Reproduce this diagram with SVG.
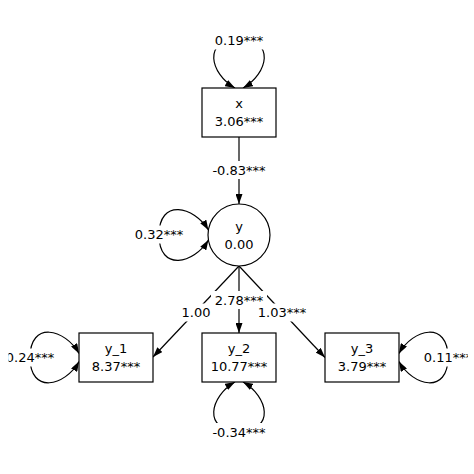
<svg xmlns="http://www.w3.org/2000/svg" width="474" height="474" viewBox="0 0 474 474">
<style>
  text { font-family: "DejaVu Sans", sans-serif; font-size: 13px; fill: #000; text-anchor: middle; }
  .edge { fill: none; stroke: #000; stroke-width: 1.2; }
  .arr { marker-end: url(#ah); }
  .loop { marker-start: url(#ah); marker-end: url(#ah); }
  .lbl { fill: #fff; stroke: none; }
  .node { fill: #fff; stroke: #000; stroke-width: 1.2; }
</style>
<defs>
  <marker id="ah" markerWidth="10" markerHeight="7" refX="10" refY="3.5" orient="auto-start-reverse" markerUnits="userSpaceOnUse">
    <path d="M0,0 L10,3.5 L0,7 z" fill="#000"/>
  </marker>
  <clipPath id="clip"><rect x="8.5" y="0" width="459.5" height="474"/></clipPath>
</defs>
<rect x="0" y="0" width="474" height="474" fill="#fff"/>
<g clip-path="url(#clip)">
  <g id="connectors">
    <path class="edge arr" d="M239,137 L239,204"/>
    <path class="edge arr" d="M239,266 L239,333"/>
    <path class="edge arr" d="M239,266 L153,357"/>
    <path class="edge arr" d="M239,266 L325,357.5"/>
    <path class="edge loop" d="M235,88 C210,74 202,39 239,39 C276,39 268,74 243,88"/>
    <path class="edge loop" d="M208.4,230 C194,206 159,198 159,235 C159,272 194,264 208.4,240"/>
    <path class="edge loop" d="M79,353.5 C65,328.5 30,320.5 30,357.5 C30,394.5 65,386.5 79,361.5"/>
    <path class="edge loop" d="M399,353.5 C413,328.5 448,320.5 448,357.5 C448,394.5 413,386.5 399,361.5"/>
    <path class="edge loop" d="M235,382 C210,396 202,431 239,431 C276,431 268,396 243,382"/>
    <rect class="lbl" x="208" y="161" width="62" height="18"/>
    <text x="239" y="174.5">-0.83***</text>
    <rect class="lbl" x="211" y="291" width="56" height="18"/>
    <text x="239" y="304.5">2.78***</text>
    <rect class="lbl" x="180" y="303.5" width="32" height="18"/>
    <text x="196" y="317">1.00</text>
    <rect class="lbl" x="254" y="303.5" width="56" height="18"/>
    <text x="282" y="317">1.03***</text>
    <rect class="lbl" x="213" y="31.5" width="52" height="18"/>
    <text x="239" y="45">0.19***</text>
    <rect class="lbl" x="133" y="225.5" width="52" height="18"/>
    <text x="159" y="239">0.32***</text>
    <rect class="lbl" x="4" y="348.5" width="52" height="18"/>
    <text x="30" y="362">0.24***</text>
    <rect class="lbl" x="422" y="348.5" width="52" height="18"/>
    <text x="448" y="362">0.11***</text>
    <rect class="lbl" x="210" y="423" width="58" height="18"/>
    <text x="239" y="436.5">-0.34***</text>
  </g>
  <g id="node-x">
    <rect class="node" x="202" y="88" width="74" height="49"/>
    <text x="239" y="108">x</text>
    <text x="239" y="126">3.06***</text>
  </g>
  <g id="node-y">
    <circle class="node" cx="239" cy="235" r="31"/>
    <text x="239" y="230.5">y</text>
    <text x="239" y="248.5">0.00</text>
  </g>
  <g id="node-y_1">
    <rect class="node" x="79" y="333" width="74" height="49"/>
    <text x="116" y="353">y_1</text>
    <text x="116" y="371">8.37***</text>
  </g>
  <g id="node-y_2">
    <rect class="node" x="202" y="333" width="74" height="49"/>
    <text x="239" y="353">y_2</text>
    <text x="239" y="371">10.77***</text>
  </g>
  <g id="node-y_3">
    <rect class="node" x="325" y="333" width="74" height="49"/>
    <text x="362" y="353">y_3</text>
    <text x="362" y="371">3.79***</text>
  </g>
</g>
</svg>
